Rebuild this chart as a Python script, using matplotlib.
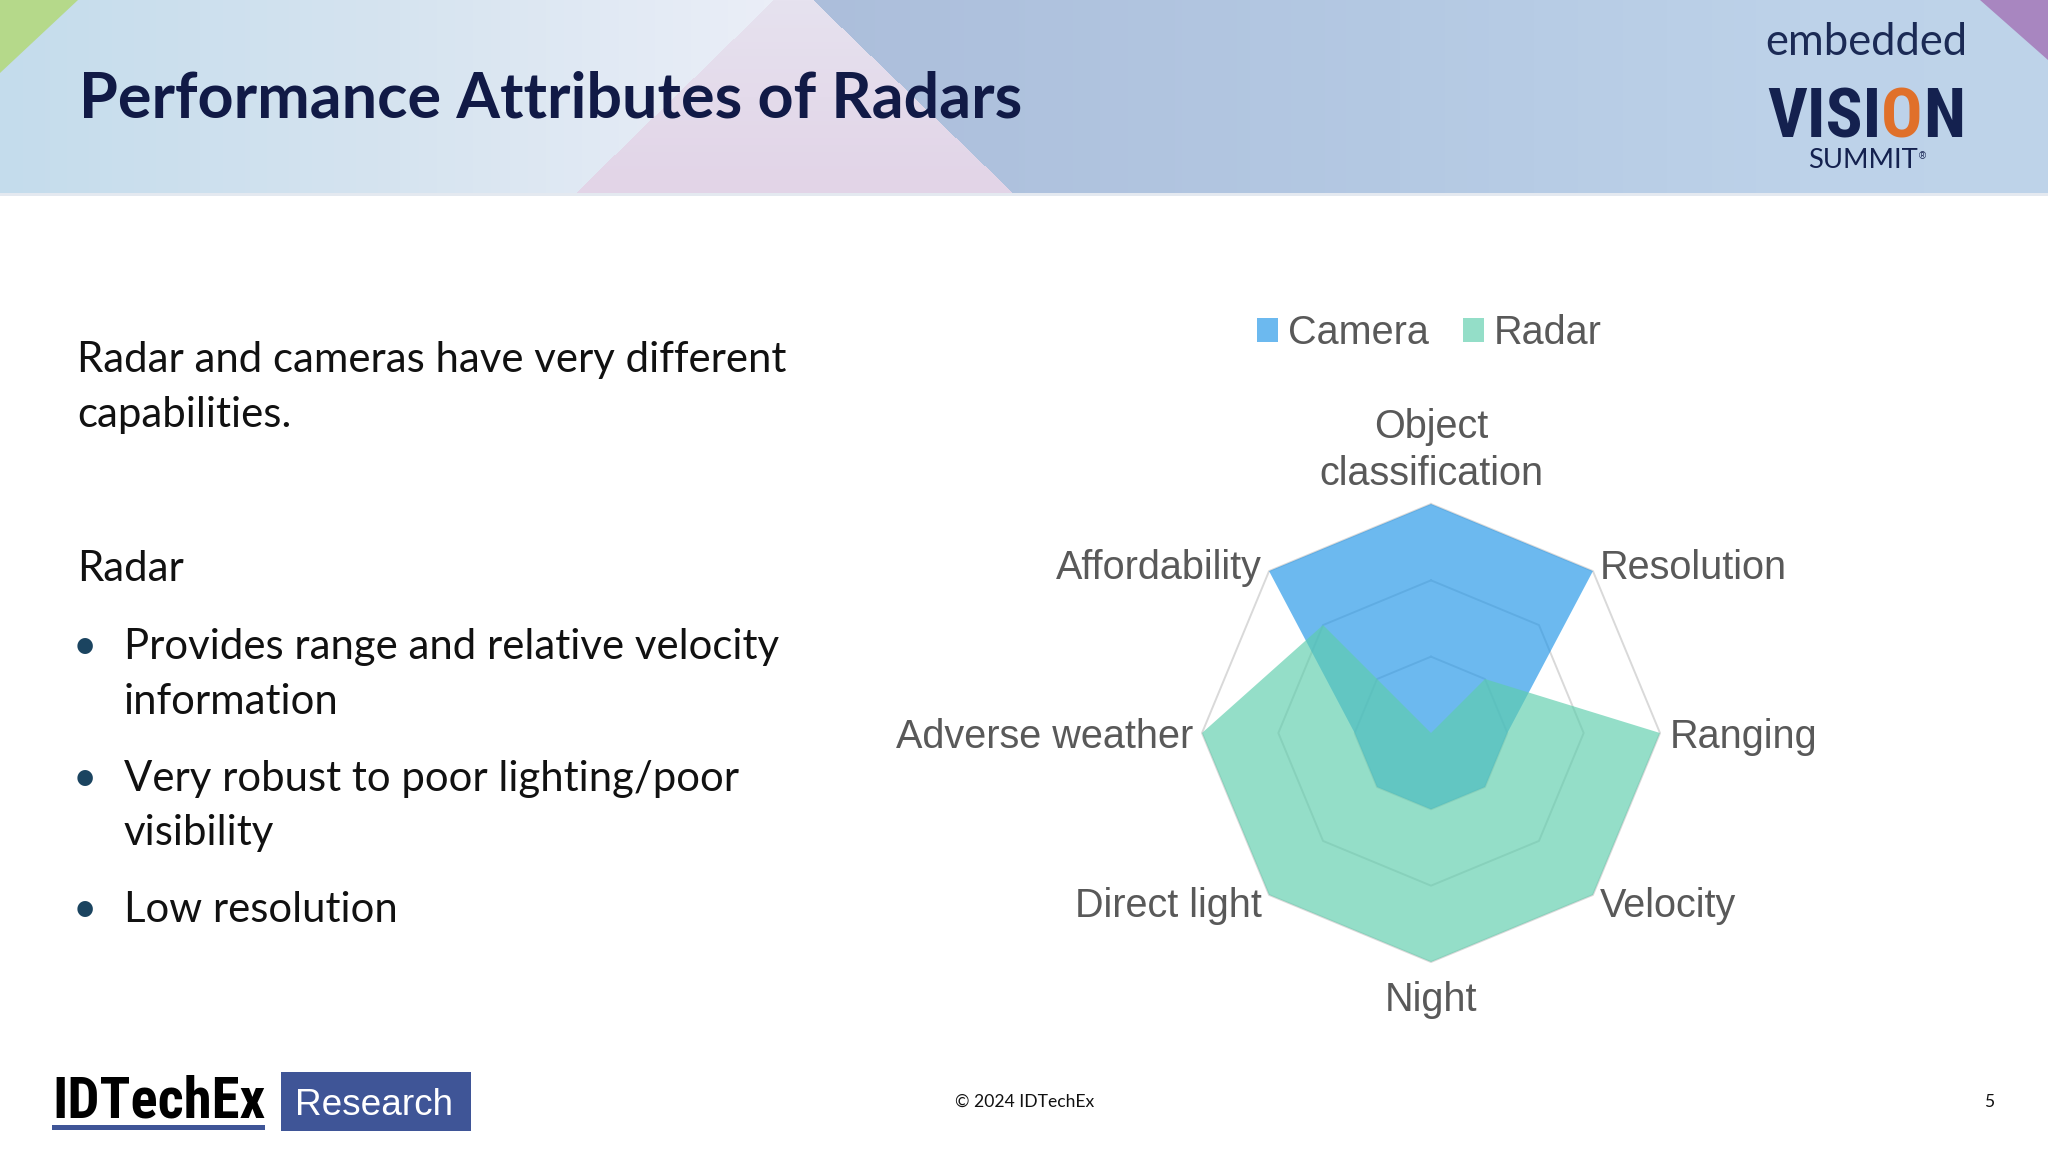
import numpy as np
import matplotlib
matplotlib.use('Agg')
import matplotlib.pyplot as plt
from matplotlib.patches import Polygon, Rectangle, Patch
from matplotlib import font_manager

# ---------------- data ----------------
categories = ["Object\nclassification", "Resolution", "Ranging", "Velocity",
              "Night", "Direct light", "Adverse weather", "Affordability"]
camera = [3, 3, 1, 1, 1, 1, 1, 3]
radar = [0, 1, 3, 3, 3, 3, 3, 2]
series_names = ["Camera", "Radar"]
grid_levels = [1, 2, 3]

title_text = "Performance Attributes of Radars"
intro_lines = ["Radar and cameras have very different", "capabilities."]
heading = "Radar"
bullets = [["Provides range and relative velocity", "information"],
           ["Very robust to poor lighting/poor", "visibility"],
           ["Low resolution"]]
copyright_text = "\u00a9 2024 IDTechEx"
page_number = "5"

# ---------------- setup ----------------
W, H = 2048, 1152
fig = plt.figure(figsize=(W / 100, H / 100), dpi=100)
fig.patch.set_facecolor('white')
renderer = fig.canvas.get_renderer()

avail = {f.name for f in font_manager.fontManager.ttflist}


def pick(*names):
    for n in names:
        if n in avail:
            return n
    return 'DejaVu Sans'


BODY = pick('Lato', 'Open Sans', 'Noto Sans')
ARIAL = pick('Liberation Sans', 'Arimo', 'DejaVu Sans')
NARROW = pick('Liberation Sans Narrow', 'Roboto Condensed', 'Liberation Sans')

CAM = '#2095E8'
RAD = '#5DCDAC'
ALPHA = 0.66
GRAY = '#595959'

bg = fig.add_axes([0, 0, 1, 1], zorder=0)
bg.axis('off')

# ---------------- banner ----------------
BH = 193
xs = np.arange(W)[None, :].astype(float) + np.zeros((BH, 1))
ys = np.arange(BH)[:, None].astype(float) + np.zeros((1, W))


def lerp_stops(x, stops):
    px = [s[0] for s in stops]
    return np.stack([np.interp(x, px, [s[1][i] for s in stops]) for i in range(3)], axis=-1)


left = lerp_stops(xs, [(0, (196, 220, 236)), (400, (214, 228, 240)), (800, (236, 239, 248))])
right = lerp_stops(xs, [(800, (172, 190, 219)), (1400, (180, 201, 227)),
                        (1800, (189, 210, 233)), (2048, (191, 212, 234))])
tt = ys / BH
pink = np.stack([np.interp(tt, [0, 1], [a, b]) for a, b in zip((230, 226, 239), (226, 212, 231))], axis=-1)
xl = 773 - 198 * ys / BH
xr = 813 + 200 * ys / BH
img = np.where((xs < xl)[..., None], left, np.where((xs > xr)[..., None], right, pink))
bg.imshow(img.astype(np.uint8), extent=(0, W, BH, 0), aspect='auto', zorder=0,
          interpolation='bilinear')
bg.set_xlim(0, W)
bg.set_ylim(H, 0)
bg.add_patch(Polygon([[0, 0], [78, 0], [0, 73]], closed=True, color='#B5D98A', lw=0, zorder=1))
bg.add_patch(Polygon([[1980, 0], [W, 0], [W, 60]], closed=True, color='#A886C0', lw=0, zorder=1))
bg.add_patch(Rectangle((0, BH), W, 3, color='#E4E9F0', lw=0, zorder=1))


def fit(x, y, s, width, size0=30, **kw):
    t = bg.text(x, y, s, fontsize=size0, **kw)
    w = t.get_window_extent(renderer).width
    t.set_fontsize(size0 * width / w)
    return t


# title
fit(79, 117, title_text, 942, fontfamily=BODY, fontweight='bold', color='#111A46',
    va='baseline', zorder=3)

# logo
fit(1765, 55, "embedded", 202, fontfamily=BODY, fontweight='normal', color='#1B2A55',
    va='baseline', zorder=3)
tmp = bg.text(0, 0, "VISION", fontsize=30, fontfamily=NARROW, fontweight='bold')
vfs = 30 * 198 / tmp.get_window_extent(renderer).width
tmp.remove()
vkw = dict(fontsize=vfs, fontfamily=NARROW, fontweight='bold', zorder=3)
t1 = bg.text(1767, 137, "VISI", color='#14214F', va='baseline', **vkw)
t2 = bg.annotate("O", xy=(1, 0), xycoords=t1, xytext=(0, 0), textcoords='offset points',
                 va='bottom', ha='left', color='#E0702A', **vkw)
bg.annotate("N", xy=(1, 0), xycoords=t2, xytext=(0, 0), textcoords='offset points',
            va='bottom', ha='left', color='#14214F', **vkw)
ts = fit(1808, 168, "SUMMIT", 109, fontfamily=BODY, color='#14214F', va='baseline', zorder=3)
bg.annotate("\u00ae", xy=(1, 1), xycoords=ts, xytext=(1, -2), textcoords='offset points',
            va='top', ha='left', fontsize=7, color='#14214F', fontfamily=ARIAL)

# ---------------- body text ----------------
tb = fit(77, 372, intro_lines[0], 709, fontfamily=BODY, color='#111111', va='baseline', zorder=3)
bfs = tb.get_fontsize()
body_kw = dict(fontsize=bfs, fontfamily=BODY, color='#111111', va='baseline', zorder=3)
bg.text(77, 427, intro_lines[1], **body_kw)
bg.text(77, 581, heading, **body_kw)
line_y = 659
for i, group in enumerate(bullets):
    bg.text(85, line_y, "\u2022", ha='center', fontsize=bfs, fontfamily=BODY,
            color='#1B4460', va='baseline', zorder=3)
    for ln in group:
        bg.text(124, line_y, ln, **body_kw)
        line_y += 54.5
    line_y += 22.5

# ---------------- radar chart ----------------
cx, cy, R = 1431, 733, 229
ax = fig.add_axes([(cx - R) / W, 1 - (cy + R) / H, 2 * R / W, 2 * R / H],
                  projection='polar', zorder=2)
n = len(categories)
theta = np.arange(n) * 2 * np.pi / n
th_c = np.append(theta, theta[0])
ax.set_theta_zero_location('N')
ax.set_theta_direction(-1)
for lv in grid_levels:
    ax.plot(th_c, [lv] * (n + 1), color='#D9D9D9', lw=1.4, zorder=1, clip_on=False)
ax.fill(th_c, np.append(camera, camera[0]), color=CAM, alpha=ALPHA, lw=0, zorder=2)
ax.fill(th_c, np.append(radar, radar[0]), color=RAD, alpha=ALPHA, lw=0, zorder=3)
rmax = max(grid_levels)
ax.set_ylim(0, rmax)
ax.set_xticks([])
ax.set_yticks([])
ax.grid(False)
ax.spines['polar'].set_visible(False)
ax.patch.set_visible(False)

label_specs = [(0, 8, 'center', 'bottom'), (5, 2, 'left', 'center'),
               (7, -3, 'left', 'center'), (5, -8, 'left', 'center'),
               (0, -14, 'center', 'top'), (-5, -8, 'right', 'center'),
               (-6, -3, 'right', 'center'), (-5, 2, 'right', 'center')]
for th, lab, (dx, dy, ha, va) in zip(theta, categories, label_specs):
    ax.annotate(lab, xy=(th, rmax), xytext=(dx, dy), textcoords='offset points',
                ha=ha, va=va, fontsize=28.5, color=GRAY, fontfamily=ARIAL,
                linespacing=1.3, annotation_clip=False)

handles = [Patch(facecolor=CAM, alpha=ALPHA, lw=0, label=series_names[0]),
           Patch(facecolor=RAD, alpha=ALPHA, lw=0, label=series_names[1])]
leg = fig.legend(handles=handles, loc='center', bbox_to_anchor=(1429 / W, 1 - 333 / H),
                 ncol=2, frameon=False, prop={'family': ARIAL, 'size': 28.5},
                 handlelength=0.53, handleheight=0.53, handletextpad=0.25,
                 columnspacing=0.86, labelcolor=GRAY, borderpad=0, borderaxespad=0)

# ---------------- footer ----------------
fit(52, 1117, "IDTechEx", 213, fontfamily=NARROW, fontweight='bold', color='black',
    va='baseline', zorder=3)
bg.add_patch(Rectangle((52, 1125), 213, 5, color='#3F5597', lw=0, zorder=2))
bg.add_patch(Rectangle((281, 1072), 190, 59, color='#3F5597', lw=0, zorder=2))
fit(295, 1115, "Research", 158, fontfamily=ARIAL, color='white', va='baseline', zorder=3)
cfs = fit(955, 1107, copyright_text, 139, fontfamily=BODY, color='#111111',
          va='baseline', zorder=3).get_fontsize()
bg.text(1989, 1107, page_number, ha='center', va='baseline', fontsize=cfs,
        fontfamily=BODY, color='#111111', zorder=3)

fig.savefig('out.png', dpi=100, facecolor='white')
